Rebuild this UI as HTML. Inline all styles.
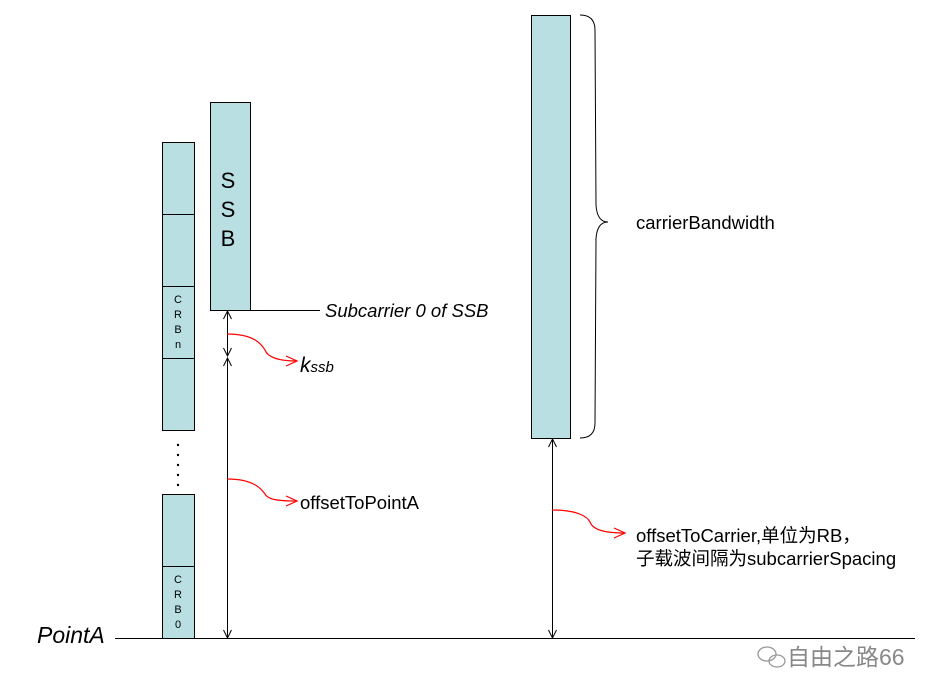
<!DOCTYPE html>
<html><head><meta charset="utf-8"><style>
body{margin:0;background:#fff;}
svg{display:block;font-family:"Liberation Sans","Noto Sans CJK SC",sans-serif;}
</style></head><body>
<svg width="934" height="697" viewBox="0 0 934 697">
<defs>
<marker id="ah" markerWidth="10" markerHeight="10" refX="9" refY="5" orient="auto" markerUnits="userSpaceOnUse"><path d="M1,1 L9,5 L1,9" fill="none" stroke="#000" stroke-width="1"/></marker>
<marker id="rh" markerWidth="14" markerHeight="14" refX="12" refY="6" orient="auto" markerUnits="userSpaceOnUse"><path d="M1,1 L12,6 L1,11" fill="none" stroke="#f00" stroke-width="1.2"/></marker>
</defs>
<g fill="#b9dfe2" stroke="#000" stroke-width="1">
<rect x="162.5" y="142.5" width="32" height="72"/>
<rect x="162.5" y="214.5" width="32" height="72"/>
<rect x="162.5" y="286.5" width="32" height="72"/>
<rect x="162.5" y="358.5" width="32" height="72"/>
<rect x="162.5" y="494.5" width="32" height="72"/>
<rect x="162.5" y="566.5" width="32" height="72"/>
<rect x="210.5" y="102.5" width="40" height="208"/>
<rect x="531.5" y="15.5" width="39" height="423"/>
</g>
<g font-size="11" text-anchor="middle" fill="#000">
<text x="178" y="303">C</text><text x="178" y="318">R</text><text x="178" y="333">B</text><text x="178" y="348">n</text>
<text x="178" y="583">C</text><text x="178" y="598">R</text><text x="178" y="613">B</text><text x="178" y="628">0</text>
</g>
<g fill="#000"><circle cx="178" cy="445" r="1.2"/><circle cx="178" cy="455" r="1.2"/><circle cx="178" cy="465" r="1.2"/><circle cx="178" cy="475" r="1.2"/><circle cx="178" cy="485" r="1.2"/></g>
<g font-size="22" text-anchor="middle"><text x="228" y="188">S</text><text x="228" y="217">S</text><text x="228" y="246">B</text></g>
<line x1="250" y1="310.5" x2="320" y2="310.5" stroke="#000"/>
<text x="325" y="317" font-size="18.5" font-style="italic">Subcarrier 0 of SSB</text>
<g stroke="#000" stroke-width="1">
<line x1="227.5" y1="340" x2="227.5" y2="311" marker-end="url(#ah)"/>
<line x1="227.5" y1="340" x2="227.5" y2="356" marker-end="url(#ah)"/>
<line x1="227.5" y1="400" x2="227.5" y2="358" marker-end="url(#ah)"/>
<line x1="227.5" y1="400" x2="227.5" y2="638" marker-end="url(#ah)"/>
<line x1="552.5" y1="500" x2="552.5" y2="439" marker-end="url(#ah)"/>
<line x1="552.5" y1="500" x2="552.5" y2="638" marker-end="url(#ah)"/>
<line x1="115" y1="638.5" x2="915" y2="638.5"/>
</g>
<g fill="none" stroke="#f00" stroke-width="1.2">
<path d="M227,334 C255,334 262,345 265,350 C268,358 280,361 297,361" marker-end="url(#rh)"/>
<path d="M227,479 C255,479 262,490 265,494 C268,500 280,501 297,501" marker-end="url(#rh)"/>
<path d="M552,510 C580,510 588,518 590,522 C593,530 605,533 625,533" marker-end="url(#rh)"/>
</g>
<text x="300" y="372" font-size="21" font-style="italic">k<tspan font-size="15">ssb</tspan></text>
<text x="300" y="509" font-size="18.5">offsetToPointA</text>
<path d="M580,15 Q595,15 595,30 L596,205 Q597,222 608,222 Q597,222 596,239 L595,423 Q595,438 580,438" fill="none" stroke="#000"/>
<text x="636" y="229" font-size="18.5">carrierBandwidth</text>
<text x="636" y="542" font-size="18.5">offsetToCarrier,单位为RB，</text>
<text x="636" y="565" font-size="18.5">子载波间隔为subcarrierSpacing</text>
<text x="37" y="643" font-size="23" font-style="italic">PointA</text>
<g stroke="#999" fill="none" stroke-width="1.3"><ellipse cx="767" cy="654" rx="9" ry="7"/><ellipse cx="777" cy="661" rx="8" ry="6"/></g>
<text x="787" y="665" font-size="23" fill="#888">自由之路66</text>
</svg>
</body></html>
